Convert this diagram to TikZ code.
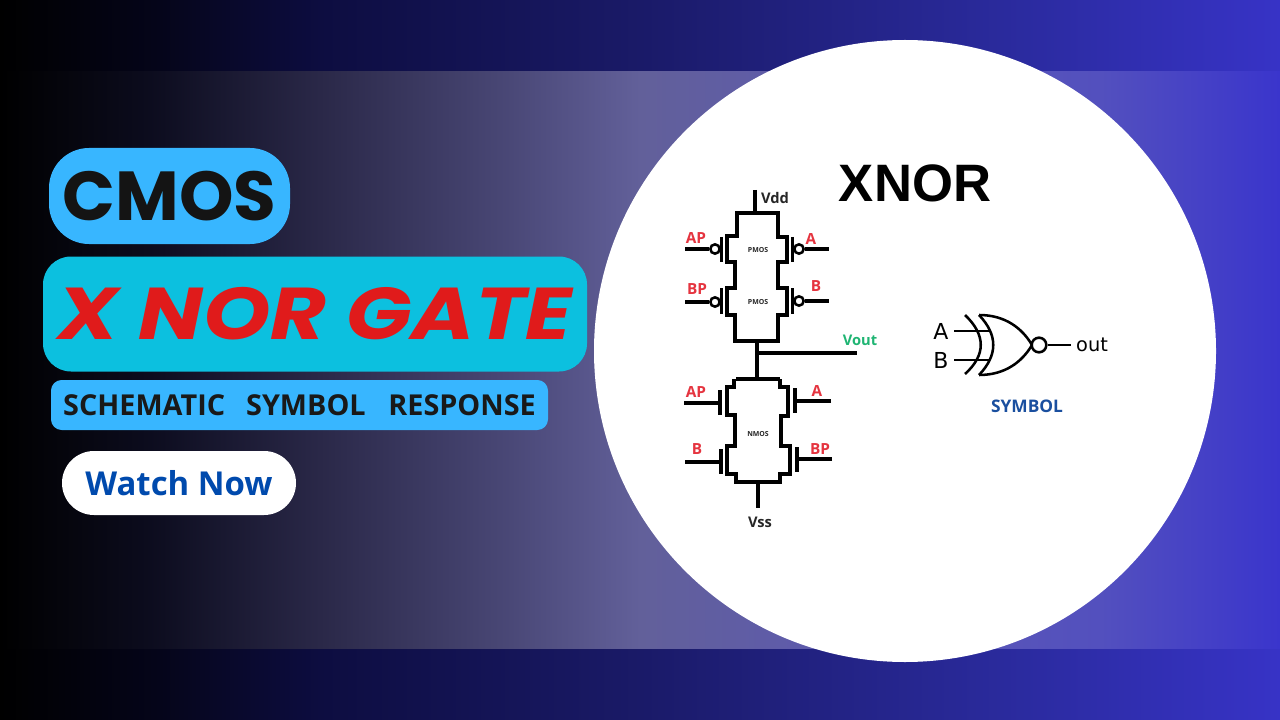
\documentclass[tikz,border=0pt]{standalone}
\usepackage{fontspec}
\usepackage{xcolor}
\setmainfont{Open Sans}
\newfontfamily\titlefont{Poppins}
\newfontfamily\widefont[FakeStretch=1.17]{Poppins}
\newfontfamily\headfont{Liberation Sans}
\newfontfamily\gatefont{DejaVu Sans}
\usetikzlibrary{positioning,calc}

\definecolor{bandzero}{HTML}{000000}
\definecolor{bandone}{HTML}{05051A}
\definecolor{bandtwo}{HTML}{0D0D40}
\definecolor{bandthree}{HTML}{1A1A68}
\definecolor{bandfour}{HTML}{2A2A9C}
\definecolor{bandfive}{HTML}{3733C6}
\definecolor{midone}{HTML}{0C0C1E}
\definecolor{midtwo}{HTML}{2A2848}
\definecolor{midthree}{HTML}{484674}
\definecolor{midfour}{HTML}{62609A}
\definecolor{midfive}{HTML}{5C58B4}
\definecolor{midsix}{HTML}{5350BE}
\definecolor{midseven}{HTML}{3A35CC}
\definecolor{pillblue}{HTML}{38B6FF}
\definecolor{pillcyan}{HTML}{0CC0DF}
\definecolor{gatered}{HTML}{E01B1B}
\definecolor{watchblue}{HTML}{004AAD}
\definecolor{pinred}{HTML}{E5343F}
\definecolor{voutgreen}{HTML}{1FB573}
\definecolor{symblue}{HTML}{1A4F9F}

\pgfdeclarehorizontalshading{darkband}{100bp}{color(0bp)=(bandzero); color(25bp)=(bandzero);
  color(31.25bp)=(bandone); color(37.5bp)=(bandtwo); color(50bp)=(bandthree);
  color(64.06bp)=(bandfour); color(75bp)=(bandfive); color(100bp)=(bandfive)}
\pgfdeclarehorizontalshading{midband}{100bp}{color(0bp)=(bandzero); color(25bp)=(bandzero);
  color(30.86bp)=(midone); color(37.5bp)=(midtwo); color(44.53bp)=(midthree); color(50bp)=(midfour);
  color(60.16bp)=(midfive); color(67.97bp)=(midsix); color(75bp)=(midseven); color(100bp)=(midseven)}

\begin{document}
\begin{tikzpicture}[x=0.75pt, y=-0.75pt,
    wire/.style={line width=2.3pt, line join=miter},
    symwire/.style={line width=1.9pt},
    pin/.style={text=pinred, font=\fontsize{11.5}{12}\selectfont\bfseries},
    rail/.style={text=black!85, font=\fontsize{11}{12}\selectfont\bfseries},
    mos/.style={text=black!85, font=\fontsize{5.2}{6}\selectfont\bfseries},
    bubble/.style={circle, draw, line width=1.9pt, inner sep=0pt, minimum size=7pt},
    symlabel/.style={font=\fontsize{16.5}{18}\selectfont\gatefont}]
    \useasboundingbox (0,0) rectangle (1280,720);

    % Background
    \shade[shading=darkband] (0,0) rectangle (1280,720);
    \shade[shading=midband] (0,72) rectangle (1280,648);
    \fill[white] (905,351) circle (311);

    % Title pills
    \node[fill=pillblue, rounded corners=30pt, minimum width=180.75pt, minimum height=72pt, inner sep=0pt,
      font=\fontsize{52}{54}\selectfont\titlefont\bfseries, text=black!92] (cmos) at (169.5,196) {CMOS};
    \node[fill=pillcyan, rounded corners=21pt, minimum width=408pt, minimum height=86.25pt, inner sep=0pt,
      font=\fontsize{55}{60}\selectfont\widefont\bfseries\itshape, text=gatered] (xnorgate) at (315,314) {X NOR GATE};
    \node[fill=pillblue, rounded corners=8pt, minimum width=372.75pt, minimum height=37.5pt, inner sep=0pt,
      font=\fontsize{21.6}{24}\selectfont\bfseries, text=black!90] (topics) at (299.5,405)
      {SCHEMATIC\hspace{15.75pt}SYMBOL\hspace{17pt}RESPONSE};
    \node[fill=white, rounded corners=24pt, minimum width=175.5pt, minimum height=48pt, inner sep=0pt,
      font=\fontsize{24.7}{28}\selectfont\bfseries, text=watchblue] (watch) at (179,483) {Watch Now};

    \node[font=\fontsize{39.5}{44}\selectfont\headfont\bfseries] (xnor) at (915,183) {XNOR};

    % PMOS pair
    \coordinate (vddtop) at (755,190);
    \coordinate (vddrail) at (755,213);
    \coordinate (ptopl) at (737,213);
    \coordinate (ptopr) at (778,213);
    \coordinate (pbotl) at (735,341);
    \coordinate (pbotr) at (778,341);
    \draw[wire] (vddtop) -- (vddrail);
    \draw[wire, line cap=rect] (ptopl) -- (ptopr);
    \draw[wire] (ptopl) -- ++(0,23) -- ++(-10,0) -- ++(0,26) -- ++(8,0) -- ++(0,26) -- ++(-8,0) -- ++(0,27) -- ++(8,0) -- (pbotl);
    \draw[wire] (ptopr) -- ++(0,24) -- ++(9,0) -- ++(0,25) -- ++(-9,0) -- ++(0,26) -- ++(9,0) -- ++(0,27) -- ++(-9,0) -- (pbotr);
    \draw[wire, line cap=rect] (pbotl) -- (pbotr);
    \draw[line width=3.4pt] (735,262) -- (735,288);

    % PMOS gates
    \node[bubble] (apbub) at (715,249) {};
    \node[bubble] (abub) at (799,249) {};
    \node[bubble] (bpbub) at (715,302) {};
    \node[bubble] (bbub) at (799,301) {};
    \coordinate (apin) at (685,249);
    \coordinate (ain) at (829,249);
    \coordinate (bpin) at (685,302);
    \coordinate (bin) at (829,301);
    \draw[wire] (apin) -- (apbub);
    \draw[wire] (abub) -- (ain);
    \draw[wire] (bpin) -- (bpbub);
    \draw[wire] (bbub) -- (bin);
    \draw[wire] (721.5,237) -- (721.5,262);
    \draw[wire] (792.5,237) -- (792.5,262);
    \draw[wire] (721.5,288) -- (721.5,314);
    \draw[wire] (792.5,288) -- (792.5,314);

    % Output
    \coordinate (outtop) at (757,341);
    \coordinate (outbot) at (757,379);
    \coordinate (outtee) at (757,353);
    \coordinate (outend) at (857,353);
    \draw[wire] (outtop) -- (outbot);
    \draw[wire] (outtee) -- (outend);

    % NMOS pair
    \coordinate (ntopl) at (734,379);
    \coordinate (ntopr) at (780,379);
    \coordinate (nbotl) at (736,482);
    \coordinate (nbotr) at (780,482);
    \coordinate (vssrail) at (758,482);
    \coordinate (vssbot) at (758,508);
    \draw[wire] (736,379) -- (ntopr);
    \draw[wire] (ntopl) -- ++(0,8) -- ++(-7,0) -- ++(0,28) -- ++(8,0) -- ++(0,31) -- ++(-8,0) -- ++(0,28) -- ++(9,0) -- (nbotl);
    \draw[wire] (ntopr) -- ++(0,8) -- ++(8,0) -- ++(0,29) -- ++(-7,0) -- ++(0,30) -- ++(9,0) -- ++(0,28) -- ++(-10,0) -- (nbotr);
    \draw[wire, line cap=rect] (nbotl) -- (nbotr);
    \draw[wire] (vssrail) -- (vssbot);

    % NMOS gates
    \coordinate (napin) at (684,403);
    \coordinate (nagate) at (720,403);
    \coordinate (nain) at (831,401);
    \coordinate (nagater) at (795,401);
    \coordinate (nbin) at (685,462);
    \coordinate (nbgate) at (721,462);
    \coordinate (nbpin) at (832,459);
    \coordinate (nbgater) at (797,459);
    \draw[wire] (napin) -- (nagate);
    \draw[wire] (nain) -- (nagater);
    \draw[wire] (nbin) -- (nbgate);
    \draw[wire] (nbpin) -- (nbgater);
    \draw[wire] (720,390) -- (720,415);
    \draw[wire] (795,388) -- (795,413);
    \draw[wire] (721,449) -- (721,474);
    \draw[wire] (797,447) -- (797,472);

    % Circuit labels
    \node[rail] (vdd) at (775,198) {Vdd};
    \node[rail] (vss) at (760,522) {Vss};
    \node[text=voutgreen, font=\fontsize{11}{12}\selectfont\bfseries] (vout) at (860,340) {Vout};
    \node[mos] (pmosa) at (758,250) {PMOS};
    \node[mos] (pmosb) at (758,302) {PMOS};
    \node[mos] (nmos) at (758,434) {NMOS};
    \node[pin] (lap) at (696,238) {AP};
    \node[pin] (la) at (811,239) {A};
    \node[pin] (lbp) at (697,289) {BP};
    \node[pin] (lb) at (816,286) {B};
    \node[pin] (lnap) at (696,392) {AP};
    \node[pin] (lna) at (817,391) {A};
    \node[pin] (lnb) at (697,449) {B};
    \node[pin] (lnbp) at (820,449) {BP};

    % Gate symbol
    \node[circle, draw, line width=1.9pt, inner sep=0pt, minimum size=11pt] (symbub) at (1039,345) {};
    \coordinate (syma) at (954,331);
    \coordinate (symae) at (990,331);
    \coordinate (symb) at (954,360);
    \coordinate (symbe) at (990,360);
    \coordinate (symout) at (1071,345);
    \draw[symwire] (syma) -- (symae);
    \draw[symwire] (symb) -- (symbe);
    \draw[symwire] (symbub) -- (symout);
    \draw[symwire] (965,315) .. controls (986,335) and (986,355) .. (965,374);
    \draw[symwire] (979,315) .. controls (998,335) and (998,355) .. (979,375);
    \draw[symwire] (979,315) .. controls (1005,315) and (1022,328) .. (1032,345);
    \draw[symwire] (979,375) .. controls (1005,375) and (1022,362) .. (1032,345);
    \node[symlabel] (syma-label) at (941,331) {A};
    \node[symlabel] (symb-label) at (941,360) {B};
    \node[font=\fontsize{14.5}{16}\selectfont\gatefont] (symout-label) at (1092,345) {out};
    \node[text=symblue, font=\fontsize{13}{14}\selectfont\bfseries] (symbol) at (1027,406) {SYMBOL};
\end{tikzpicture}
\end{document}
